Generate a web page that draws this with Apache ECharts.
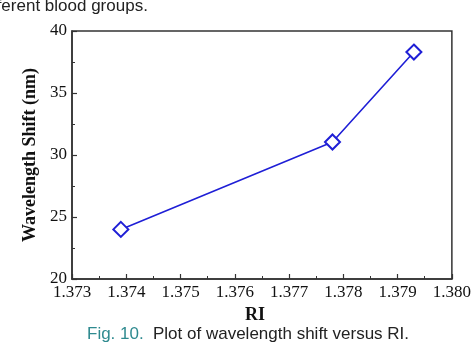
<!DOCTYPE html>
<html>
<head>
<meta charset="utf-8">
<script src="https://cdn.jsdelivr.net/npm/echarts@6/dist/echarts.min.js"></script>
<style>
  html, body { margin: 0; padding: 0; background: #fff; }
  #chart { width: 474px; height: 345px; }
</style>
</head>
<body>
<div id="chart"></div>
<script>
// Refractive index of each sample and the measured resonance shift
const riValues = [1.3739, 1.3778, 1.3793];
const shiftValues = [24.0, 31.05, 38.3];

// Axis ranges and tick steps
const xRange = [1.373, 1.380];
const xStep = 0.001;
const yRange = [20, 40];
const yStep = 5;

const xTitle = 'RI';
const yTitle = 'Wavelength Shift (nm)';
const captionLabel = 'Fig. 10.';
const captionText = 'Plot of wavelength shift versus RI.';
const precedingText = 'different blood groups.';

const points = riValues.map((x, i) => [x, shiftValues[i]]);

const serif = '"Liberation Serif", "Times New Roman", serif';
const sans = '"Liberation Sans", Arial, sans-serif';
const axisColor = '#333';
const lineColor = '#1f1fd6';

const chart = echarts.init(document.getElementById('chart'), null, { renderer: 'canvas' });

chart.setOption({
  animation: false,
  backgroundColor: '#fff',
  grid: {
    left: 72, right: 20, top: 31, bottom: 66,
    show: true, borderColor: axisColor, borderWidth: 1.5, backgroundColor: 'transparent'
  },
  xAxis: {
    type: 'value',
    min: xRange[0], max: xRange[1], interval: xStep,
    name: xTitle, nameLocation: 'middle', nameGap: 21,
    nameTextStyle: { fontFamily: serif, fontWeight: 'bold', fontSize: 18, color: '#111', padding: [0, 14, 0, 0] },
    axisLine: { show: true, onZero: false, lineStyle: { color: axisColor, width: 1.5 } },
    axisTick: { show: true, inside: true, length: 5, lineStyle: { color: axisColor, width: 1.2 } },
    minorTick: { show: true, splitNumber: 2, length: 3, lineStyle: { color: axisColor, width: 1 } },
    splitLine: { show: false },
    axisLabel: {
      fontFamily: serif, fontSize: 17, color: '#111', margin: 5,
      formatter: v => v.toFixed(3)
    }
  },
  yAxis: {
    type: 'value',
    min: yRange[0], max: yRange[1], interval: yStep,
    name: yTitle, nameLocation: 'middle', nameGap: 29, nameRotate: 90,
    nameTextStyle: { fontFamily: serif, fontWeight: 'bold', fontSize: 18, color: '#111' },
    axisLine: { show: true, onZero: false, lineStyle: { color: axisColor, width: 1.5 } },
    axisTick: { show: true, inside: true, length: 5, lineStyle: { color: axisColor, width: 1.2 } },
    minorTick: { show: true, splitNumber: 2, length: 3, lineStyle: { color: axisColor, width: 1 } },
    splitLine: { show: false },
    axisLabel: { fontFamily: serif, fontSize: 17, color: '#111', margin: 5 }
  },
  series: [{
    type: 'line',
    data: points,
    symbol: 'emptyDiamond',
    symbolSize: 15,
    showAllSymbol: true,
    lineStyle: { color: lineColor, width: 1.6 },
    itemStyle: { color: lineColor, borderColor: lineColor, borderWidth: 1.5 },
    z: 3
  }],
  graphic: [
    {
      type: 'text', left: -21, top: -2,
      style: { text: precedingText, font: '17px ' + sans, fill: '#222' }
    },
    {
      type: 'group', left: 87, top: 326,
      children: [
        { type: 'text', left: 0, top: 0, style: { text: captionLabel, font: '17px ' + sans, fill: '#2e8a8f' } },
        { type: 'text', left: 66, top: 0, style: { text: captionText, font: '17px ' + sans, fill: '#222' } }
      ]
    }
  ]
});
</script>
</body>
</html>
